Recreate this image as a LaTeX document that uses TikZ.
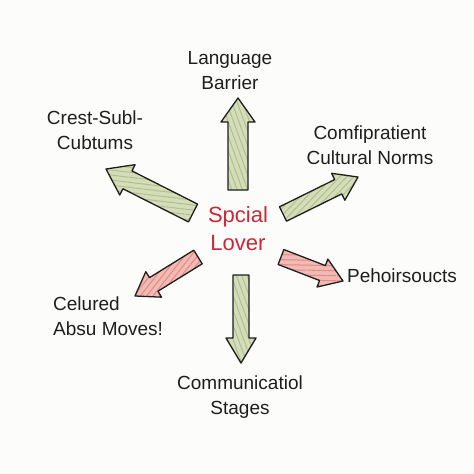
\documentclass[tikz,border=0pt]{standalone}
\usepackage{fontspec}
\setmainfont{Liberation Sans}
\usetikzlibrary{patterns.meta}
\definecolor{bgc}{RGB}{252,252,250}
\definecolor{gfill}{RGB}{212,220,186}
\definecolor{ghatch}{RGB}{176,192,138}
\definecolor{rfill}{RGB}{242,186,180}
\definecolor{rhatch}{RGB}{226,138,130}
\definecolor{inkred}{RGB}{200,40,55}
\definecolor{ink}{RGB}{30,30,30}
\def\hangle{45}
\tikzset{
  label/.style={font=\fontsize{19}{25}\selectfont, text=ink, align=center, inner sep=0pt},
  centre/.style={font=\fontsize{22}{28}\selectfont, text=inkred, align=center, inner sep=0pt},
  greenarrow/.style={preaction={fill=gfill}, preaction={pattern={Lines[angle=\hangle,distance=5pt,line width=1pt]}, pattern color=ghatch}, draw=ink, line width=1.3pt, line join=round},
  redarrow/.style={preaction={fill=rfill}, preaction={pattern={Lines[angle=\hangle,distance=5pt,line width=1pt]}, pattern color=rhatch}, draw=ink, line width=1.3pt, line join=round}
}
% block arrow from coordinate #1 to coordinate #2; #3 style, #4 shaft half width, #5 head half width, #6 head length (pt)
\newcommand\barrow[6]{%
  \pgfpointdiff{\pgfpointanchor{#1}{center}}{\pgfpointanchor{#2}{center}}%
  \pgfgetlastxy\bdx\bdy
  \pgfmathsetmacro\bang{atan2(\bdy,\bdx)}%
  \pgfmathsetmacro\blen{veclen(\bdx,\bdy)}%
  \pgfmathsetmacro\hangle{\bang+20}%
  \begin{scope}[shift={(#1)},rotate=\bang]
    \draw[#3] (0pt,#4pt) -- ({\blen pt-#6pt},#4pt) -- ({\blen pt-#6pt},#5pt) -- ({\blen pt},0pt)
      -- ({\blen pt-#6pt},-#5pt) -- ({\blen pt-#6pt},-#4pt) -- (0pt,-#4pt) -- cycle;
  \end{scope}}
\begin{document}
\begin{tikzpicture}[x=1pt,y=-1pt]
\fill[bgc] (0,0) rectangle (474,474);
\useasboundingbox (0,0) rectangle (474,474);

\node[centre] (c) at (238,229) {Spcial\\Lover};

\node[label] (lb) at (230,71) {Language\\Barrier};
\node[label] (cs) at (95,130) {Crest-Subl-\\Cubtums};
\node[label] (cn) at (370,145) {Comfipratient\\Cultural Norms};
\node[label] (pe) at (402,276) {Pehoirsoucts};
\node[label, align=left, anchor=west] (am) at (53,316) {Celured\\Absu Moves!};
\node[label] (cm) at (240,397) {Communicatiol\\Stages};

\coordinate (t1) at (238,190); \coordinate (h1) at (238,98);
\coordinate (t2) at (193,213); \coordinate (h2) at (106,169);
\coordinate (t3) at (283,214); \coordinate (h3) at (358,177);
\coordinate (t4) at (198,257); \coordinate (h4) at (135,296);
\coordinate (t5) at (281,257); \coordinate (h5) at (343,281);
\coordinate (t6) at (241,275); \coordinate (h6) at (241,363);

\barrow{t1}{h1}{greenarrow}{10}{17}{24}
\barrow{t2}{h2}{greenarrow}{10}{17}{24}
\barrow{t3}{h3}{greenarrow}{8}{15}{22}
\barrow{t4}{h4}{redarrow}{8}{15}{22}
\barrow{t5}{h5}{redarrow}{8}{15}{22}
\barrow{t6}{h6}{greenarrow}{8}{15}{25}
\end{tikzpicture}
\end{document}
